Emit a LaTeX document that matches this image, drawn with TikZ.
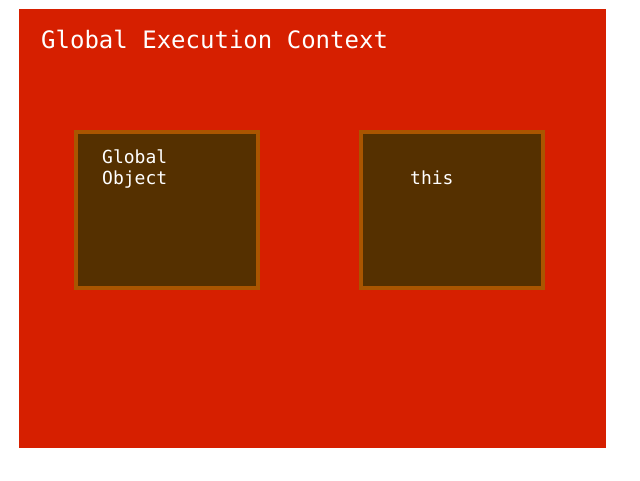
\documentclass[tikz,border=0pt]{standalone}
\usepackage{fontspec}
\setmainfont{DejaVu Sans Mono}
\usepackage{xcolor}
\usepackage{tikz}

\definecolor{ctxred}{RGB}{214,31,0}
\definecolor{boxedge}{RGB}{170,85,0}
\definecolor{boxfill}{RGB}{85,48,0}

\tikzset{
  membox/.style={draw=boxedge, fill=boxfill, line width=4pt,
    minimum width=182pt, minimum height=156pt, inner sep=0pt},
  memtext/.style={text=white, anchor=base west, inner sep=0pt,
    font=\fontsize{18}{21}\selectfont},
  ctxtitle/.style={text=white, anchor=base west, inner sep=0pt,
    font=\fontsize{24}{28}\selectfont}
}

\begin{document}
\begin{tikzpicture}[x=1pt,y=-1pt]
  \useasboundingbox (0,0) rectangle (640,480);
  \node[fill=ctxred, anchor=north west, inner sep=0pt,
    minimum width=587pt, minimum height=439pt] (ctx) at (19,9) {};
  \node[ctxtitle] (title) at (41,48) {Global Execution Context};
  % the two boxes
  \node[membox] (globalobj) at (167,210) {};
  \node[membox] (thisbox) at (452,210) {};
  \node[memtext, align=left] (globallbl) at (102,184) {Global\\Object};
  \node[memtext] (thislbl) at (410,184) {this};
\end{tikzpicture}
\end{document}
